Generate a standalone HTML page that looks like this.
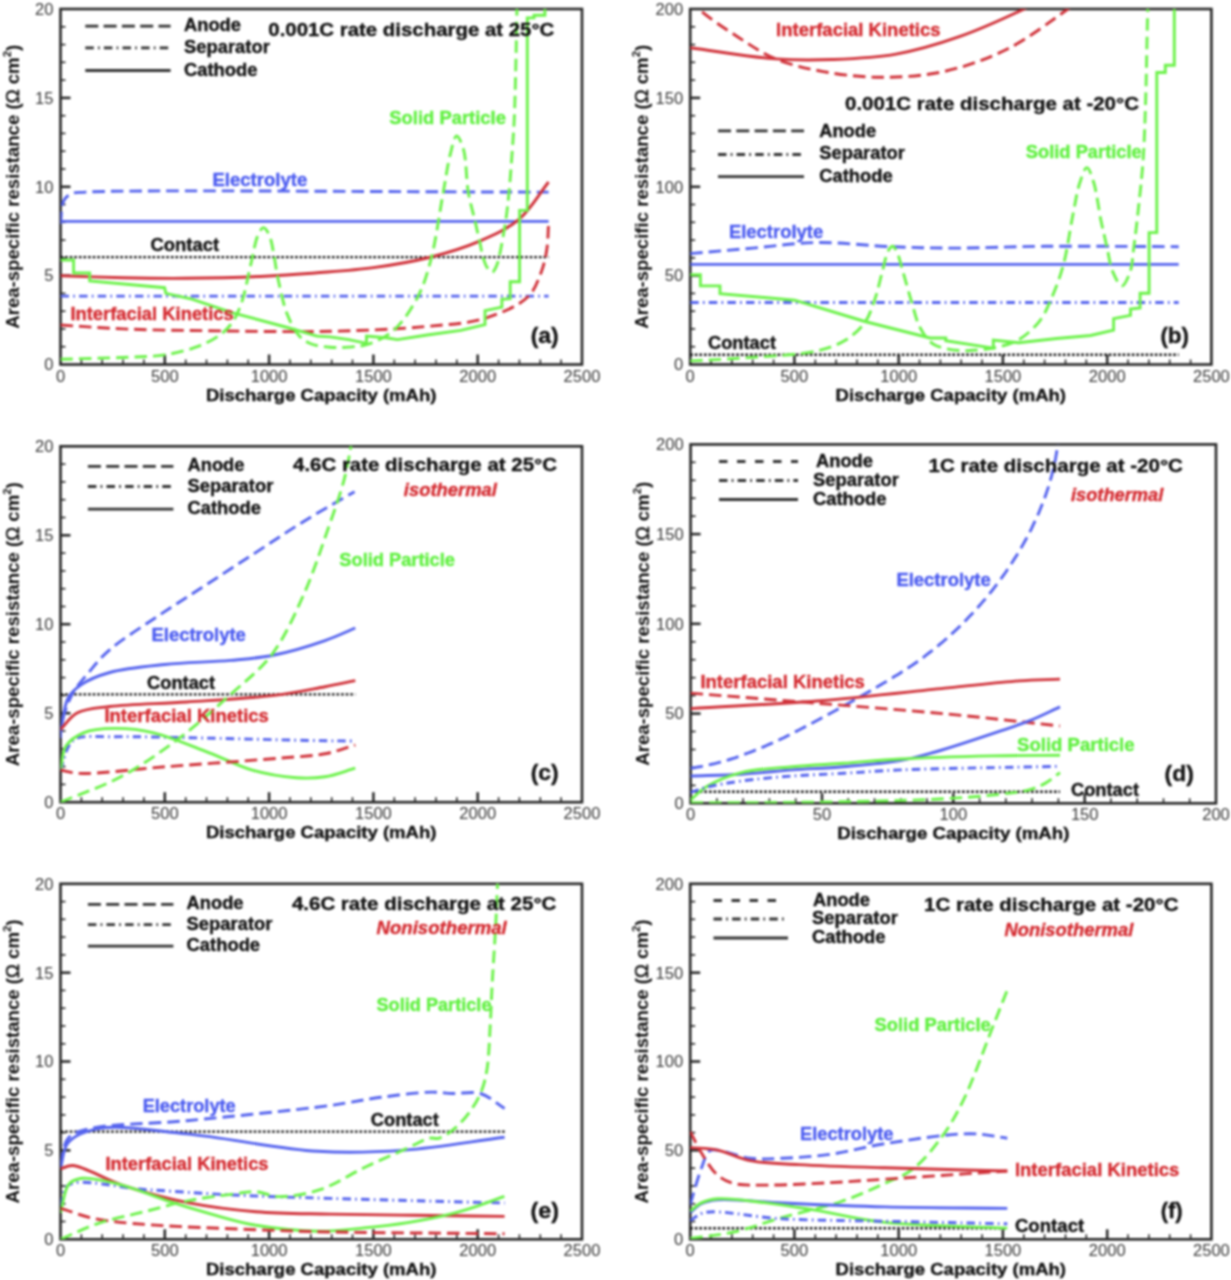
<!DOCTYPE html><html><head><meta charset="utf-8"><style>html,body{margin:0;padding:0;background:#fff;overflow:hidden}svg{display:block;filter:blur(1px)}</style></head><body><svg width="1231" height="1280" viewBox="0 0 1231 1280" font-family='"Liberation Sans", sans-serif'><defs><clipPath id="clipa"><rect x="60.5" y="9" width="521.5" height="355.5"/></clipPath><clipPath id="clipb"><rect x="690.2" y="9" width="521.2" height="355.5"/></clipPath><clipPath id="clipc"><rect x="60.5" y="446.3" width="521.5" height="355.9"/></clipPath><clipPath id="clipd"><rect x="690.6" y="444.4" width="525.4" height="358.9"/></clipPath><clipPath id="clipe"><rect x="60.5" y="883.8" width="521.5" height="355.5"/></clipPath><clipPath id="clipf"><rect x="690.2" y="883.8" width="521.2" height="355.5"/></clipPath></defs><rect width="1231" height="1280" fill="#fff"/><line x1="81.4" y1="364.5" x2="81.4" y2="359.5" stroke="#262626" stroke-width="1.6"/>
<line x1="102.2" y1="364.5" x2="102.2" y2="359.5" stroke="#262626" stroke-width="1.6"/>
<line x1="123.1" y1="364.5" x2="123.1" y2="359.5" stroke="#262626" stroke-width="1.6"/>
<line x1="143.9" y1="364.5" x2="143.9" y2="359.5" stroke="#262626" stroke-width="1.6"/>
<line x1="164.8" y1="364.5" x2="164.8" y2="354.5" stroke="#262626" stroke-width="2.5"/>
<line x1="185.7" y1="364.5" x2="185.7" y2="359.5" stroke="#262626" stroke-width="1.6"/>
<line x1="206.5" y1="364.5" x2="206.5" y2="359.5" stroke="#262626" stroke-width="1.6"/>
<line x1="227.4" y1="364.5" x2="227.4" y2="359.5" stroke="#262626" stroke-width="1.6"/>
<line x1="248.2" y1="364.5" x2="248.2" y2="359.5" stroke="#262626" stroke-width="1.6"/>
<line x1="269.1" y1="364.5" x2="269.1" y2="354.5" stroke="#262626" stroke-width="2.5"/>
<line x1="290" y1="364.5" x2="290" y2="359.5" stroke="#262626" stroke-width="1.6"/>
<line x1="310.8" y1="364.5" x2="310.8" y2="359.5" stroke="#262626" stroke-width="1.6"/>
<line x1="331.7" y1="364.5" x2="331.7" y2="359.5" stroke="#262626" stroke-width="1.6"/>
<line x1="352.5" y1="364.5" x2="352.5" y2="359.5" stroke="#262626" stroke-width="1.6"/>
<line x1="373.4" y1="364.5" x2="373.4" y2="354.5" stroke="#262626" stroke-width="2.5"/>
<line x1="394.3" y1="364.5" x2="394.3" y2="359.5" stroke="#262626" stroke-width="1.6"/>
<line x1="415.1" y1="364.5" x2="415.1" y2="359.5" stroke="#262626" stroke-width="1.6"/>
<line x1="436" y1="364.5" x2="436" y2="359.5" stroke="#262626" stroke-width="1.6"/>
<line x1="456.8" y1="364.5" x2="456.8" y2="359.5" stroke="#262626" stroke-width="1.6"/>
<line x1="477.7" y1="364.5" x2="477.7" y2="354.5" stroke="#262626" stroke-width="2.5"/>
<line x1="498.6" y1="364.5" x2="498.6" y2="359.5" stroke="#262626" stroke-width="1.6"/>
<line x1="519.4" y1="364.5" x2="519.4" y2="359.5" stroke="#262626" stroke-width="1.6"/>
<line x1="540.3" y1="364.5" x2="540.3" y2="359.5" stroke="#262626" stroke-width="1.6"/>
<line x1="561.1" y1="364.5" x2="561.1" y2="359.5" stroke="#262626" stroke-width="1.6"/>
<line x1="60.5" y1="346.7" x2="65.5" y2="346.7" stroke="#262626" stroke-width="1.6"/>
<line x1="60.5" y1="328.9" x2="65.5" y2="328.9" stroke="#262626" stroke-width="1.6"/>
<line x1="60.5" y1="311.2" x2="65.5" y2="311.2" stroke="#262626" stroke-width="1.6"/>
<line x1="60.5" y1="293.4" x2="65.5" y2="293.4" stroke="#262626" stroke-width="1.6"/>
<line x1="60.5" y1="275.6" x2="70.5" y2="275.6" stroke="#262626" stroke-width="2.5"/>
<line x1="60.5" y1="257.9" x2="65.5" y2="257.9" stroke="#262626" stroke-width="1.6"/>
<line x1="60.5" y1="240.1" x2="65.5" y2="240.1" stroke="#262626" stroke-width="1.6"/>
<line x1="60.5" y1="222.3" x2="65.5" y2="222.3" stroke="#262626" stroke-width="1.6"/>
<line x1="60.5" y1="204.5" x2="65.5" y2="204.5" stroke="#262626" stroke-width="1.6"/>
<line x1="60.5" y1="186.8" x2="70.5" y2="186.8" stroke="#262626" stroke-width="2.5"/>
<line x1="60.5" y1="169" x2="65.5" y2="169" stroke="#262626" stroke-width="1.6"/>
<line x1="60.5" y1="151.2" x2="65.5" y2="151.2" stroke="#262626" stroke-width="1.6"/>
<line x1="60.5" y1="133.4" x2="65.5" y2="133.4" stroke="#262626" stroke-width="1.6"/>
<line x1="60.5" y1="115.7" x2="65.5" y2="115.7" stroke="#262626" stroke-width="1.6"/>
<line x1="60.5" y1="97.9" x2="70.5" y2="97.9" stroke="#262626" stroke-width="2.5"/>
<line x1="60.5" y1="80.1" x2="65.5" y2="80.1" stroke="#262626" stroke-width="1.6"/>
<line x1="60.5" y1="62.3" x2="65.5" y2="62.3" stroke="#262626" stroke-width="1.6"/>
<line x1="60.5" y1="44.6" x2="65.5" y2="44.6" stroke="#262626" stroke-width="1.6"/>
<line x1="60.5" y1="26.8" x2="65.5" y2="26.8" stroke="#262626" stroke-width="1.6"/>
<rect x="60.5" y="9" width="521.5" height="355.5" fill="none" stroke="#262626" stroke-width="2.6"/>
<text x="60.5" y="381.5" font-size="16.5" fill="#383838" font-weight="normal" text-anchor="middle" textLength="9.2" lengthAdjust="spacingAndGlyphs" >0</text>
<text x="164.8" y="381.5" font-size="16.5" fill="#383838" font-weight="normal" text-anchor="middle" textLength="27.6" lengthAdjust="spacingAndGlyphs" >500</text>
<text x="269.1" y="381.5" font-size="16.5" fill="#383838" font-weight="normal" text-anchor="middle" textLength="36.8" lengthAdjust="spacingAndGlyphs" >1000</text>
<text x="373.4" y="381.5" font-size="16.5" fill="#383838" font-weight="normal" text-anchor="middle" textLength="36.8" lengthAdjust="spacingAndGlyphs" >1500</text>
<text x="477.7" y="381.5" font-size="16.5" fill="#383838" font-weight="normal" text-anchor="middle" textLength="36.8" lengthAdjust="spacingAndGlyphs" >2000</text>
<text x="582" y="381.5" font-size="16.5" fill="#383838" font-weight="normal" text-anchor="middle" textLength="36.8" lengthAdjust="spacingAndGlyphs" >2500</text>
<text x="53.5" y="370.3" font-size="16.5" fill="#383838" font-weight="normal" text-anchor="end" textLength="9.2" lengthAdjust="spacingAndGlyphs" >0</text>
<text x="53.5" y="281.4" font-size="16.5" fill="#383838" font-weight="normal" text-anchor="end" textLength="9.2" lengthAdjust="spacingAndGlyphs" >5</text>
<text x="53.5" y="192.6" font-size="16.5" fill="#383838" font-weight="normal" text-anchor="end" textLength="18.4" lengthAdjust="spacingAndGlyphs" >10</text>
<text x="53.5" y="103.7" font-size="16.5" fill="#383838" font-weight="normal" text-anchor="end" textLength="18.4" lengthAdjust="spacingAndGlyphs" >15</text>
<text x="53.5" y="14.8" font-size="16.5" fill="#383838" font-weight="normal" text-anchor="end" textLength="18.4" lengthAdjust="spacingAndGlyphs" >20</text>
<text x="321.2" y="400.5" font-size="16.5" fill="#111" font-weight="bold" text-anchor="middle" textLength="230.5" lengthAdjust="spacingAndGlyphs" stroke="#111" stroke-width="0.35" >Discharge Capacity (mAh)</text>
<g transform="translate(18.5,186.8) rotate(-90)"><text x="0" y="0" font-size="18" font-weight="bold" fill="#111" text-anchor="middle" textLength="284" lengthAdjust="spacingAndGlyphs">Area-specific resistance (<tspan font-weight="normal" stroke-width="0.5" stroke="#111">&#937;</tspan> cm<tspan dy="-8" font-size="11">2</tspan><tspan dy="8">)</tspan></text></g>
<line x1="711" y1="364.5" x2="711" y2="359.5" stroke="#262626" stroke-width="1.6"/>
<line x1="731.9" y1="364.5" x2="731.9" y2="359.5" stroke="#262626" stroke-width="1.6"/>
<line x1="752.7" y1="364.5" x2="752.7" y2="359.5" stroke="#262626" stroke-width="1.6"/>
<line x1="773.6" y1="364.5" x2="773.6" y2="359.5" stroke="#262626" stroke-width="1.6"/>
<line x1="794.4" y1="364.5" x2="794.4" y2="354.5" stroke="#262626" stroke-width="2.5"/>
<line x1="815.3" y1="364.5" x2="815.3" y2="359.5" stroke="#262626" stroke-width="1.6"/>
<line x1="836.1" y1="364.5" x2="836.1" y2="359.5" stroke="#262626" stroke-width="1.6"/>
<line x1="857" y1="364.5" x2="857" y2="359.5" stroke="#262626" stroke-width="1.6"/>
<line x1="877.8" y1="364.5" x2="877.8" y2="359.5" stroke="#262626" stroke-width="1.6"/>
<line x1="898.7" y1="364.5" x2="898.7" y2="354.5" stroke="#262626" stroke-width="2.5"/>
<line x1="919.5" y1="364.5" x2="919.5" y2="359.5" stroke="#262626" stroke-width="1.6"/>
<line x1="940.4" y1="364.5" x2="940.4" y2="359.5" stroke="#262626" stroke-width="1.6"/>
<line x1="961.2" y1="364.5" x2="961.2" y2="359.5" stroke="#262626" stroke-width="1.6"/>
<line x1="982.1" y1="364.5" x2="982.1" y2="359.5" stroke="#262626" stroke-width="1.6"/>
<line x1="1002.9" y1="364.5" x2="1002.9" y2="354.5" stroke="#262626" stroke-width="2.5"/>
<line x1="1023.8" y1="364.5" x2="1023.8" y2="359.5" stroke="#262626" stroke-width="1.6"/>
<line x1="1044.6" y1="364.5" x2="1044.6" y2="359.5" stroke="#262626" stroke-width="1.6"/>
<line x1="1065.5" y1="364.5" x2="1065.5" y2="359.5" stroke="#262626" stroke-width="1.6"/>
<line x1="1086.3" y1="364.5" x2="1086.3" y2="359.5" stroke="#262626" stroke-width="1.6"/>
<line x1="1107.2" y1="364.5" x2="1107.2" y2="354.5" stroke="#262626" stroke-width="2.5"/>
<line x1="1128" y1="364.5" x2="1128" y2="359.5" stroke="#262626" stroke-width="1.6"/>
<line x1="1148.9" y1="364.5" x2="1148.9" y2="359.5" stroke="#262626" stroke-width="1.6"/>
<line x1="1169.7" y1="364.5" x2="1169.7" y2="359.5" stroke="#262626" stroke-width="1.6"/>
<line x1="1190.6" y1="364.5" x2="1190.6" y2="359.5" stroke="#262626" stroke-width="1.6"/>
<line x1="690.2" y1="346.7" x2="695.2" y2="346.7" stroke="#262626" stroke-width="1.6"/>
<line x1="690.2" y1="328.9" x2="695.2" y2="328.9" stroke="#262626" stroke-width="1.6"/>
<line x1="690.2" y1="311.2" x2="695.2" y2="311.2" stroke="#262626" stroke-width="1.6"/>
<line x1="690.2" y1="293.4" x2="695.2" y2="293.4" stroke="#262626" stroke-width="1.6"/>
<line x1="690.2" y1="275.6" x2="700.2" y2="275.6" stroke="#262626" stroke-width="2.5"/>
<line x1="690.2" y1="257.9" x2="695.2" y2="257.9" stroke="#262626" stroke-width="1.6"/>
<line x1="690.2" y1="240.1" x2="695.2" y2="240.1" stroke="#262626" stroke-width="1.6"/>
<line x1="690.2" y1="222.3" x2="695.2" y2="222.3" stroke="#262626" stroke-width="1.6"/>
<line x1="690.2" y1="204.5" x2="695.2" y2="204.5" stroke="#262626" stroke-width="1.6"/>
<line x1="690.2" y1="186.8" x2="700.2" y2="186.8" stroke="#262626" stroke-width="2.5"/>
<line x1="690.2" y1="169" x2="695.2" y2="169" stroke="#262626" stroke-width="1.6"/>
<line x1="690.2" y1="151.2" x2="695.2" y2="151.2" stroke="#262626" stroke-width="1.6"/>
<line x1="690.2" y1="133.4" x2="695.2" y2="133.4" stroke="#262626" stroke-width="1.6"/>
<line x1="690.2" y1="115.7" x2="695.2" y2="115.7" stroke="#262626" stroke-width="1.6"/>
<line x1="690.2" y1="97.9" x2="700.2" y2="97.9" stroke="#262626" stroke-width="2.5"/>
<line x1="690.2" y1="80.1" x2="695.2" y2="80.1" stroke="#262626" stroke-width="1.6"/>
<line x1="690.2" y1="62.3" x2="695.2" y2="62.3" stroke="#262626" stroke-width="1.6"/>
<line x1="690.2" y1="44.6" x2="695.2" y2="44.6" stroke="#262626" stroke-width="1.6"/>
<line x1="690.2" y1="26.8" x2="695.2" y2="26.8" stroke="#262626" stroke-width="1.6"/>
<rect x="690.2" y="9" width="521.2" height="355.5" fill="none" stroke="#262626" stroke-width="2.6"/>
<text x="690.2" y="381.5" font-size="16.5" fill="#383838" font-weight="normal" text-anchor="middle" textLength="9.2" lengthAdjust="spacingAndGlyphs" >0</text>
<text x="794.4" y="381.5" font-size="16.5" fill="#383838" font-weight="normal" text-anchor="middle" textLength="27.6" lengthAdjust="spacingAndGlyphs" >500</text>
<text x="898.7" y="381.5" font-size="16.5" fill="#383838" font-weight="normal" text-anchor="middle" textLength="36.8" lengthAdjust="spacingAndGlyphs" >1000</text>
<text x="1002.9" y="381.5" font-size="16.5" fill="#383838" font-weight="normal" text-anchor="middle" textLength="36.8" lengthAdjust="spacingAndGlyphs" >1500</text>
<text x="1107.2" y="381.5" font-size="16.5" fill="#383838" font-weight="normal" text-anchor="middle" textLength="36.8" lengthAdjust="spacingAndGlyphs" >2000</text>
<text x="1211.4" y="381.5" font-size="16.5" fill="#383838" font-weight="normal" text-anchor="middle" textLength="36.8" lengthAdjust="spacingAndGlyphs" >2500</text>
<text x="683.2" y="370.3" font-size="16.5" fill="#383838" font-weight="normal" text-anchor="end" textLength="9.2" lengthAdjust="spacingAndGlyphs" >0</text>
<text x="683.2" y="281.4" font-size="16.5" fill="#383838" font-weight="normal" text-anchor="end" textLength="18.4" lengthAdjust="spacingAndGlyphs" >50</text>
<text x="683.2" y="192.6" font-size="16.5" fill="#383838" font-weight="normal" text-anchor="end" textLength="27.6" lengthAdjust="spacingAndGlyphs" >100</text>
<text x="683.2" y="103.7" font-size="16.5" fill="#383838" font-weight="normal" text-anchor="end" textLength="27.6" lengthAdjust="spacingAndGlyphs" >150</text>
<text x="683.2" y="14.8" font-size="16.5" fill="#383838" font-weight="normal" text-anchor="end" textLength="27.6" lengthAdjust="spacingAndGlyphs" >200</text>
<text x="950.8" y="400.5" font-size="16.5" fill="#111" font-weight="bold" text-anchor="middle" textLength="230.4" lengthAdjust="spacingAndGlyphs" stroke="#111" stroke-width="0.35" >Discharge Capacity (mAh)</text>
<g transform="translate(648.2,186.8) rotate(-90)"><text x="0" y="0" font-size="18" font-weight="bold" fill="#111" text-anchor="middle" textLength="284" lengthAdjust="spacingAndGlyphs">Area-specific resistance (<tspan font-weight="normal" stroke-width="0.5" stroke="#111">&#937;</tspan> cm<tspan dy="-8" font-size="11">2</tspan><tspan dy="8">)</tspan></text></g>
<line x1="81.4" y1="802.2" x2="81.4" y2="797.2" stroke="#262626" stroke-width="1.6"/>
<line x1="102.2" y1="802.2" x2="102.2" y2="797.2" stroke="#262626" stroke-width="1.6"/>
<line x1="123.1" y1="802.2" x2="123.1" y2="797.2" stroke="#262626" stroke-width="1.6"/>
<line x1="143.9" y1="802.2" x2="143.9" y2="797.2" stroke="#262626" stroke-width="1.6"/>
<line x1="164.8" y1="802.2" x2="164.8" y2="792.2" stroke="#262626" stroke-width="2.5"/>
<line x1="185.7" y1="802.2" x2="185.7" y2="797.2" stroke="#262626" stroke-width="1.6"/>
<line x1="206.5" y1="802.2" x2="206.5" y2="797.2" stroke="#262626" stroke-width="1.6"/>
<line x1="227.4" y1="802.2" x2="227.4" y2="797.2" stroke="#262626" stroke-width="1.6"/>
<line x1="248.2" y1="802.2" x2="248.2" y2="797.2" stroke="#262626" stroke-width="1.6"/>
<line x1="269.1" y1="802.2" x2="269.1" y2="792.2" stroke="#262626" stroke-width="2.5"/>
<line x1="290" y1="802.2" x2="290" y2="797.2" stroke="#262626" stroke-width="1.6"/>
<line x1="310.8" y1="802.2" x2="310.8" y2="797.2" stroke="#262626" stroke-width="1.6"/>
<line x1="331.7" y1="802.2" x2="331.7" y2="797.2" stroke="#262626" stroke-width="1.6"/>
<line x1="352.5" y1="802.2" x2="352.5" y2="797.2" stroke="#262626" stroke-width="1.6"/>
<line x1="373.4" y1="802.2" x2="373.4" y2="792.2" stroke="#262626" stroke-width="2.5"/>
<line x1="394.3" y1="802.2" x2="394.3" y2="797.2" stroke="#262626" stroke-width="1.6"/>
<line x1="415.1" y1="802.2" x2="415.1" y2="797.2" stroke="#262626" stroke-width="1.6"/>
<line x1="436" y1="802.2" x2="436" y2="797.2" stroke="#262626" stroke-width="1.6"/>
<line x1="456.8" y1="802.2" x2="456.8" y2="797.2" stroke="#262626" stroke-width="1.6"/>
<line x1="477.7" y1="802.2" x2="477.7" y2="792.2" stroke="#262626" stroke-width="2.5"/>
<line x1="498.6" y1="802.2" x2="498.6" y2="797.2" stroke="#262626" stroke-width="1.6"/>
<line x1="519.4" y1="802.2" x2="519.4" y2="797.2" stroke="#262626" stroke-width="1.6"/>
<line x1="540.3" y1="802.2" x2="540.3" y2="797.2" stroke="#262626" stroke-width="1.6"/>
<line x1="561.1" y1="802.2" x2="561.1" y2="797.2" stroke="#262626" stroke-width="1.6"/>
<line x1="60.5" y1="784.4" x2="65.5" y2="784.4" stroke="#262626" stroke-width="1.6"/>
<line x1="60.5" y1="766.6" x2="65.5" y2="766.6" stroke="#262626" stroke-width="1.6"/>
<line x1="60.5" y1="748.8" x2="65.5" y2="748.8" stroke="#262626" stroke-width="1.6"/>
<line x1="60.5" y1="731" x2="65.5" y2="731" stroke="#262626" stroke-width="1.6"/>
<line x1="60.5" y1="713.2" x2="70.5" y2="713.2" stroke="#262626" stroke-width="2.5"/>
<line x1="60.5" y1="695.4" x2="65.5" y2="695.4" stroke="#262626" stroke-width="1.6"/>
<line x1="60.5" y1="677.6" x2="65.5" y2="677.6" stroke="#262626" stroke-width="1.6"/>
<line x1="60.5" y1="659.8" x2="65.5" y2="659.8" stroke="#262626" stroke-width="1.6"/>
<line x1="60.5" y1="642" x2="65.5" y2="642" stroke="#262626" stroke-width="1.6"/>
<line x1="60.5" y1="624.2" x2="70.5" y2="624.2" stroke="#262626" stroke-width="2.5"/>
<line x1="60.5" y1="606.5" x2="65.5" y2="606.5" stroke="#262626" stroke-width="1.6"/>
<line x1="60.5" y1="588.7" x2="65.5" y2="588.7" stroke="#262626" stroke-width="1.6"/>
<line x1="60.5" y1="570.9" x2="65.5" y2="570.9" stroke="#262626" stroke-width="1.6"/>
<line x1="60.5" y1="553.1" x2="65.5" y2="553.1" stroke="#262626" stroke-width="1.6"/>
<line x1="60.5" y1="535.3" x2="70.5" y2="535.3" stroke="#262626" stroke-width="2.5"/>
<line x1="60.5" y1="517.5" x2="65.5" y2="517.5" stroke="#262626" stroke-width="1.6"/>
<line x1="60.5" y1="499.7" x2="65.5" y2="499.7" stroke="#262626" stroke-width="1.6"/>
<line x1="60.5" y1="481.9" x2="65.5" y2="481.9" stroke="#262626" stroke-width="1.6"/>
<line x1="60.5" y1="464.1" x2="65.5" y2="464.1" stroke="#262626" stroke-width="1.6"/>
<rect x="60.5" y="446.3" width="521.5" height="355.9" fill="none" stroke="#262626" stroke-width="2.6"/>
<text x="60.5" y="819.2" font-size="16.5" fill="#383838" font-weight="normal" text-anchor="middle" textLength="9.2" lengthAdjust="spacingAndGlyphs" >0</text>
<text x="164.8" y="819.2" font-size="16.5" fill="#383838" font-weight="normal" text-anchor="middle" textLength="27.6" lengthAdjust="spacingAndGlyphs" >500</text>
<text x="269.1" y="819.2" font-size="16.5" fill="#383838" font-weight="normal" text-anchor="middle" textLength="36.8" lengthAdjust="spacingAndGlyphs" >1000</text>
<text x="373.4" y="819.2" font-size="16.5" fill="#383838" font-weight="normal" text-anchor="middle" textLength="36.8" lengthAdjust="spacingAndGlyphs" >1500</text>
<text x="477.7" y="819.2" font-size="16.5" fill="#383838" font-weight="normal" text-anchor="middle" textLength="36.8" lengthAdjust="spacingAndGlyphs" >2000</text>
<text x="582" y="819.2" font-size="16.5" fill="#383838" font-weight="normal" text-anchor="middle" textLength="36.8" lengthAdjust="spacingAndGlyphs" >2500</text>
<text x="53.5" y="808" font-size="16.5" fill="#383838" font-weight="normal" text-anchor="end" textLength="9.2" lengthAdjust="spacingAndGlyphs" >0</text>
<text x="53.5" y="719" font-size="16.5" fill="#383838" font-weight="normal" text-anchor="end" textLength="9.2" lengthAdjust="spacingAndGlyphs" >5</text>
<text x="53.5" y="630" font-size="16.5" fill="#383838" font-weight="normal" text-anchor="end" textLength="18.4" lengthAdjust="spacingAndGlyphs" >10</text>
<text x="53.5" y="541.1" font-size="16.5" fill="#383838" font-weight="normal" text-anchor="end" textLength="18.4" lengthAdjust="spacingAndGlyphs" >15</text>
<text x="53.5" y="452.1" font-size="16.5" fill="#383838" font-weight="normal" text-anchor="end" textLength="18.4" lengthAdjust="spacingAndGlyphs" >20</text>
<text x="321.2" y="838.2" font-size="16.5" fill="#111" font-weight="bold" text-anchor="middle" textLength="230.5" lengthAdjust="spacingAndGlyphs" stroke="#111" stroke-width="0.35" >Discharge Capacity (mAh)</text>
<g transform="translate(18.5,624.2) rotate(-90)"><text x="0" y="0" font-size="18" font-weight="bold" fill="#111" text-anchor="middle" textLength="284" lengthAdjust="spacingAndGlyphs">Area-specific resistance (<tspan font-weight="normal" stroke-width="0.5" stroke="#111">&#937;</tspan> cm<tspan dy="-8" font-size="11">2</tspan><tspan dy="8">)</tspan></text></g>
<line x1="716.9" y1="803.3" x2="716.9" y2="798.3" stroke="#262626" stroke-width="1.6"/>
<line x1="743.1" y1="803.3" x2="743.1" y2="798.3" stroke="#262626" stroke-width="1.6"/>
<line x1="769.4" y1="803.3" x2="769.4" y2="798.3" stroke="#262626" stroke-width="1.6"/>
<line x1="795.7" y1="803.3" x2="795.7" y2="798.3" stroke="#262626" stroke-width="1.6"/>
<line x1="822" y1="803.3" x2="822" y2="793.3" stroke="#262626" stroke-width="2.5"/>
<line x1="848.2" y1="803.3" x2="848.2" y2="798.3" stroke="#262626" stroke-width="1.6"/>
<line x1="874.5" y1="803.3" x2="874.5" y2="798.3" stroke="#262626" stroke-width="1.6"/>
<line x1="900.8" y1="803.3" x2="900.8" y2="798.3" stroke="#262626" stroke-width="1.6"/>
<line x1="927" y1="803.3" x2="927" y2="798.3" stroke="#262626" stroke-width="1.6"/>
<line x1="953.3" y1="803.3" x2="953.3" y2="793.3" stroke="#262626" stroke-width="2.5"/>
<line x1="979.6" y1="803.3" x2="979.6" y2="798.3" stroke="#262626" stroke-width="1.6"/>
<line x1="1005.8" y1="803.3" x2="1005.8" y2="798.3" stroke="#262626" stroke-width="1.6"/>
<line x1="1032.1" y1="803.3" x2="1032.1" y2="798.3" stroke="#262626" stroke-width="1.6"/>
<line x1="1058.4" y1="803.3" x2="1058.4" y2="798.3" stroke="#262626" stroke-width="1.6"/>
<line x1="1084.7" y1="803.3" x2="1084.7" y2="793.3" stroke="#262626" stroke-width="2.5"/>
<line x1="1110.9" y1="803.3" x2="1110.9" y2="798.3" stroke="#262626" stroke-width="1.6"/>
<line x1="1137.2" y1="803.3" x2="1137.2" y2="798.3" stroke="#262626" stroke-width="1.6"/>
<line x1="1163.5" y1="803.3" x2="1163.5" y2="798.3" stroke="#262626" stroke-width="1.6"/>
<line x1="1189.7" y1="803.3" x2="1189.7" y2="798.3" stroke="#262626" stroke-width="1.6"/>
<line x1="690.6" y1="785.4" x2="695.6" y2="785.4" stroke="#262626" stroke-width="1.6"/>
<line x1="690.6" y1="767.4" x2="695.6" y2="767.4" stroke="#262626" stroke-width="1.6"/>
<line x1="690.6" y1="749.5" x2="695.6" y2="749.5" stroke="#262626" stroke-width="1.6"/>
<line x1="690.6" y1="731.5" x2="695.6" y2="731.5" stroke="#262626" stroke-width="1.6"/>
<line x1="690.6" y1="713.6" x2="700.6" y2="713.6" stroke="#262626" stroke-width="2.5"/>
<line x1="690.6" y1="695.6" x2="695.6" y2="695.6" stroke="#262626" stroke-width="1.6"/>
<line x1="690.6" y1="677.7" x2="695.6" y2="677.7" stroke="#262626" stroke-width="1.6"/>
<line x1="690.6" y1="659.7" x2="695.6" y2="659.7" stroke="#262626" stroke-width="1.6"/>
<line x1="690.6" y1="641.8" x2="695.6" y2="641.8" stroke="#262626" stroke-width="1.6"/>
<line x1="690.6" y1="623.8" x2="700.6" y2="623.8" stroke="#262626" stroke-width="2.5"/>
<line x1="690.6" y1="605.9" x2="695.6" y2="605.9" stroke="#262626" stroke-width="1.6"/>
<line x1="690.6" y1="588" x2="695.6" y2="588" stroke="#262626" stroke-width="1.6"/>
<line x1="690.6" y1="570" x2="695.6" y2="570" stroke="#262626" stroke-width="1.6"/>
<line x1="690.6" y1="552.1" x2="695.6" y2="552.1" stroke="#262626" stroke-width="1.6"/>
<line x1="690.6" y1="534.1" x2="700.6" y2="534.1" stroke="#262626" stroke-width="2.5"/>
<line x1="690.6" y1="516.2" x2="695.6" y2="516.2" stroke="#262626" stroke-width="1.6"/>
<line x1="690.6" y1="498.2" x2="695.6" y2="498.2" stroke="#262626" stroke-width="1.6"/>
<line x1="690.6" y1="480.3" x2="695.6" y2="480.3" stroke="#262626" stroke-width="1.6"/>
<line x1="690.6" y1="462.3" x2="695.6" y2="462.3" stroke="#262626" stroke-width="1.6"/>
<rect x="690.6" y="444.4" width="525.4" height="358.9" fill="none" stroke="#262626" stroke-width="2.6"/>
<text x="690.6" y="820.3" font-size="16.5" fill="#383838" font-weight="normal" text-anchor="middle" textLength="9.2" lengthAdjust="spacingAndGlyphs" >0</text>
<text x="822" y="820.3" font-size="16.5" fill="#383838" font-weight="normal" text-anchor="middle" textLength="18.4" lengthAdjust="spacingAndGlyphs" >50</text>
<text x="953.3" y="820.3" font-size="16.5" fill="#383838" font-weight="normal" text-anchor="middle" textLength="27.6" lengthAdjust="spacingAndGlyphs" >100</text>
<text x="1084.7" y="820.3" font-size="16.5" fill="#383838" font-weight="normal" text-anchor="middle" textLength="27.6" lengthAdjust="spacingAndGlyphs" >150</text>
<text x="1216" y="820.3" font-size="16.5" fill="#383838" font-weight="normal" text-anchor="middle" textLength="27.6" lengthAdjust="spacingAndGlyphs" >200</text>
<text x="683.6" y="809.1" font-size="16.5" fill="#383838" font-weight="normal" text-anchor="end" textLength="9.2" lengthAdjust="spacingAndGlyphs" >0</text>
<text x="683.6" y="719.4" font-size="16.5" fill="#383838" font-weight="normal" text-anchor="end" textLength="18.4" lengthAdjust="spacingAndGlyphs" >50</text>
<text x="683.6" y="629.6" font-size="16.5" fill="#383838" font-weight="normal" text-anchor="end" textLength="27.6" lengthAdjust="spacingAndGlyphs" >100</text>
<text x="683.6" y="539.9" font-size="16.5" fill="#383838" font-weight="normal" text-anchor="end" textLength="27.6" lengthAdjust="spacingAndGlyphs" >150</text>
<text x="683.6" y="450.2" font-size="16.5" fill="#383838" font-weight="normal" text-anchor="end" textLength="27.6" lengthAdjust="spacingAndGlyphs" >200</text>
<text x="953.3" y="839.3" font-size="16.5" fill="#111" font-weight="bold" text-anchor="middle" textLength="232.2" lengthAdjust="spacingAndGlyphs" stroke="#111" stroke-width="0.35" >Discharge Capacity (mAh)</text>
<g transform="translate(648.6,623.8) rotate(-90)"><text x="0" y="0" font-size="18" font-weight="bold" fill="#111" text-anchor="middle" textLength="284" lengthAdjust="spacingAndGlyphs">Area-specific resistance (<tspan font-weight="normal" stroke-width="0.5" stroke="#111">&#937;</tspan> cm<tspan dy="-8" font-size="11">2</tspan><tspan dy="8">)</tspan></text></g>
<line x1="81.4" y1="1239.3" x2="81.4" y2="1234.3" stroke="#262626" stroke-width="1.6"/>
<line x1="102.2" y1="1239.3" x2="102.2" y2="1234.3" stroke="#262626" stroke-width="1.6"/>
<line x1="123.1" y1="1239.3" x2="123.1" y2="1234.3" stroke="#262626" stroke-width="1.6"/>
<line x1="143.9" y1="1239.3" x2="143.9" y2="1234.3" stroke="#262626" stroke-width="1.6"/>
<line x1="164.8" y1="1239.3" x2="164.8" y2="1229.3" stroke="#262626" stroke-width="2.5"/>
<line x1="185.7" y1="1239.3" x2="185.7" y2="1234.3" stroke="#262626" stroke-width="1.6"/>
<line x1="206.5" y1="1239.3" x2="206.5" y2="1234.3" stroke="#262626" stroke-width="1.6"/>
<line x1="227.4" y1="1239.3" x2="227.4" y2="1234.3" stroke="#262626" stroke-width="1.6"/>
<line x1="248.2" y1="1239.3" x2="248.2" y2="1234.3" stroke="#262626" stroke-width="1.6"/>
<line x1="269.1" y1="1239.3" x2="269.1" y2="1229.3" stroke="#262626" stroke-width="2.5"/>
<line x1="290" y1="1239.3" x2="290" y2="1234.3" stroke="#262626" stroke-width="1.6"/>
<line x1="310.8" y1="1239.3" x2="310.8" y2="1234.3" stroke="#262626" stroke-width="1.6"/>
<line x1="331.7" y1="1239.3" x2="331.7" y2="1234.3" stroke="#262626" stroke-width="1.6"/>
<line x1="352.5" y1="1239.3" x2="352.5" y2="1234.3" stroke="#262626" stroke-width="1.6"/>
<line x1="373.4" y1="1239.3" x2="373.4" y2="1229.3" stroke="#262626" stroke-width="2.5"/>
<line x1="394.3" y1="1239.3" x2="394.3" y2="1234.3" stroke="#262626" stroke-width="1.6"/>
<line x1="415.1" y1="1239.3" x2="415.1" y2="1234.3" stroke="#262626" stroke-width="1.6"/>
<line x1="436" y1="1239.3" x2="436" y2="1234.3" stroke="#262626" stroke-width="1.6"/>
<line x1="456.8" y1="1239.3" x2="456.8" y2="1234.3" stroke="#262626" stroke-width="1.6"/>
<line x1="477.7" y1="1239.3" x2="477.7" y2="1229.3" stroke="#262626" stroke-width="2.5"/>
<line x1="498.6" y1="1239.3" x2="498.6" y2="1234.3" stroke="#262626" stroke-width="1.6"/>
<line x1="519.4" y1="1239.3" x2="519.4" y2="1234.3" stroke="#262626" stroke-width="1.6"/>
<line x1="540.3" y1="1239.3" x2="540.3" y2="1234.3" stroke="#262626" stroke-width="1.6"/>
<line x1="561.1" y1="1239.3" x2="561.1" y2="1234.3" stroke="#262626" stroke-width="1.6"/>
<line x1="60.5" y1="1221.5" x2="65.5" y2="1221.5" stroke="#262626" stroke-width="1.6"/>
<line x1="60.5" y1="1203.8" x2="65.5" y2="1203.8" stroke="#262626" stroke-width="1.6"/>
<line x1="60.5" y1="1186" x2="65.5" y2="1186" stroke="#262626" stroke-width="1.6"/>
<line x1="60.5" y1="1168.2" x2="65.5" y2="1168.2" stroke="#262626" stroke-width="1.6"/>
<line x1="60.5" y1="1150.4" x2="70.5" y2="1150.4" stroke="#262626" stroke-width="2.5"/>
<line x1="60.5" y1="1132.6" x2="65.5" y2="1132.6" stroke="#262626" stroke-width="1.6"/>
<line x1="60.5" y1="1114.9" x2="65.5" y2="1114.9" stroke="#262626" stroke-width="1.6"/>
<line x1="60.5" y1="1097.1" x2="65.5" y2="1097.1" stroke="#262626" stroke-width="1.6"/>
<line x1="60.5" y1="1079.3" x2="65.5" y2="1079.3" stroke="#262626" stroke-width="1.6"/>
<line x1="60.5" y1="1061.5" x2="70.5" y2="1061.5" stroke="#262626" stroke-width="2.5"/>
<line x1="60.5" y1="1043.8" x2="65.5" y2="1043.8" stroke="#262626" stroke-width="1.6"/>
<line x1="60.5" y1="1026" x2="65.5" y2="1026" stroke="#262626" stroke-width="1.6"/>
<line x1="60.5" y1="1008.2" x2="65.5" y2="1008.2" stroke="#262626" stroke-width="1.6"/>
<line x1="60.5" y1="990.4" x2="65.5" y2="990.4" stroke="#262626" stroke-width="1.6"/>
<line x1="60.5" y1="972.7" x2="70.5" y2="972.7" stroke="#262626" stroke-width="2.5"/>
<line x1="60.5" y1="954.9" x2="65.5" y2="954.9" stroke="#262626" stroke-width="1.6"/>
<line x1="60.5" y1="937.1" x2="65.5" y2="937.1" stroke="#262626" stroke-width="1.6"/>
<line x1="60.5" y1="919.3" x2="65.5" y2="919.3" stroke="#262626" stroke-width="1.6"/>
<line x1="60.5" y1="901.6" x2="65.5" y2="901.6" stroke="#262626" stroke-width="1.6"/>
<rect x="60.5" y="883.8" width="521.5" height="355.5" fill="none" stroke="#262626" stroke-width="2.6"/>
<text x="60.5" y="1256.3" font-size="16.5" fill="#383838" font-weight="normal" text-anchor="middle" textLength="9.2" lengthAdjust="spacingAndGlyphs" >0</text>
<text x="164.8" y="1256.3" font-size="16.5" fill="#383838" font-weight="normal" text-anchor="middle" textLength="27.6" lengthAdjust="spacingAndGlyphs" >500</text>
<text x="269.1" y="1256.3" font-size="16.5" fill="#383838" font-weight="normal" text-anchor="middle" textLength="36.8" lengthAdjust="spacingAndGlyphs" >1000</text>
<text x="373.4" y="1256.3" font-size="16.5" fill="#383838" font-weight="normal" text-anchor="middle" textLength="36.8" lengthAdjust="spacingAndGlyphs" >1500</text>
<text x="477.7" y="1256.3" font-size="16.5" fill="#383838" font-weight="normal" text-anchor="middle" textLength="36.8" lengthAdjust="spacingAndGlyphs" >2000</text>
<text x="582" y="1256.3" font-size="16.5" fill="#383838" font-weight="normal" text-anchor="middle" textLength="36.8" lengthAdjust="spacingAndGlyphs" >2500</text>
<text x="53.5" y="1245.1" font-size="16.5" fill="#383838" font-weight="normal" text-anchor="end" textLength="9.2" lengthAdjust="spacingAndGlyphs" >0</text>
<text x="53.5" y="1156.2" font-size="16.5" fill="#383838" font-weight="normal" text-anchor="end" textLength="9.2" lengthAdjust="spacingAndGlyphs" >5</text>
<text x="53.5" y="1067.3" font-size="16.5" fill="#383838" font-weight="normal" text-anchor="end" textLength="18.4" lengthAdjust="spacingAndGlyphs" >10</text>
<text x="53.5" y="978.5" font-size="16.5" fill="#383838" font-weight="normal" text-anchor="end" textLength="18.4" lengthAdjust="spacingAndGlyphs" >15</text>
<text x="53.5" y="889.6" font-size="16.5" fill="#383838" font-weight="normal" text-anchor="end" textLength="18.4" lengthAdjust="spacingAndGlyphs" >20</text>
<text x="321.2" y="1275.3" font-size="16.5" fill="#111" font-weight="bold" text-anchor="middle" textLength="230.5" lengthAdjust="spacingAndGlyphs" stroke="#111" stroke-width="0.35" >Discharge Capacity (mAh)</text>
<g transform="translate(18.5,1061.5) rotate(-90)"><text x="0" y="0" font-size="18" font-weight="bold" fill="#111" text-anchor="middle" textLength="284" lengthAdjust="spacingAndGlyphs">Area-specific resistance (<tspan font-weight="normal" stroke-width="0.5" stroke="#111">&#937;</tspan> cm<tspan dy="-8" font-size="11">2</tspan><tspan dy="8">)</tspan></text></g>
<line x1="711" y1="1239.3" x2="711" y2="1234.3" stroke="#262626" stroke-width="1.6"/>
<line x1="731.9" y1="1239.3" x2="731.9" y2="1234.3" stroke="#262626" stroke-width="1.6"/>
<line x1="752.7" y1="1239.3" x2="752.7" y2="1234.3" stroke="#262626" stroke-width="1.6"/>
<line x1="773.6" y1="1239.3" x2="773.6" y2="1234.3" stroke="#262626" stroke-width="1.6"/>
<line x1="794.4" y1="1239.3" x2="794.4" y2="1229.3" stroke="#262626" stroke-width="2.5"/>
<line x1="815.3" y1="1239.3" x2="815.3" y2="1234.3" stroke="#262626" stroke-width="1.6"/>
<line x1="836.1" y1="1239.3" x2="836.1" y2="1234.3" stroke="#262626" stroke-width="1.6"/>
<line x1="857" y1="1239.3" x2="857" y2="1234.3" stroke="#262626" stroke-width="1.6"/>
<line x1="877.8" y1="1239.3" x2="877.8" y2="1234.3" stroke="#262626" stroke-width="1.6"/>
<line x1="898.7" y1="1239.3" x2="898.7" y2="1229.3" stroke="#262626" stroke-width="2.5"/>
<line x1="919.5" y1="1239.3" x2="919.5" y2="1234.3" stroke="#262626" stroke-width="1.6"/>
<line x1="940.4" y1="1239.3" x2="940.4" y2="1234.3" stroke="#262626" stroke-width="1.6"/>
<line x1="961.2" y1="1239.3" x2="961.2" y2="1234.3" stroke="#262626" stroke-width="1.6"/>
<line x1="982.1" y1="1239.3" x2="982.1" y2="1234.3" stroke="#262626" stroke-width="1.6"/>
<line x1="1002.9" y1="1239.3" x2="1002.9" y2="1229.3" stroke="#262626" stroke-width="2.5"/>
<line x1="1023.8" y1="1239.3" x2="1023.8" y2="1234.3" stroke="#262626" stroke-width="1.6"/>
<line x1="1044.6" y1="1239.3" x2="1044.6" y2="1234.3" stroke="#262626" stroke-width="1.6"/>
<line x1="1065.5" y1="1239.3" x2="1065.5" y2="1234.3" stroke="#262626" stroke-width="1.6"/>
<line x1="1086.3" y1="1239.3" x2="1086.3" y2="1234.3" stroke="#262626" stroke-width="1.6"/>
<line x1="1107.2" y1="1239.3" x2="1107.2" y2="1229.3" stroke="#262626" stroke-width="2.5"/>
<line x1="1128" y1="1239.3" x2="1128" y2="1234.3" stroke="#262626" stroke-width="1.6"/>
<line x1="1148.9" y1="1239.3" x2="1148.9" y2="1234.3" stroke="#262626" stroke-width="1.6"/>
<line x1="1169.7" y1="1239.3" x2="1169.7" y2="1234.3" stroke="#262626" stroke-width="1.6"/>
<line x1="1190.6" y1="1239.3" x2="1190.6" y2="1234.3" stroke="#262626" stroke-width="1.6"/>
<line x1="690.2" y1="1221.5" x2="695.2" y2="1221.5" stroke="#262626" stroke-width="1.6"/>
<line x1="690.2" y1="1203.8" x2="695.2" y2="1203.8" stroke="#262626" stroke-width="1.6"/>
<line x1="690.2" y1="1186" x2="695.2" y2="1186" stroke="#262626" stroke-width="1.6"/>
<line x1="690.2" y1="1168.2" x2="695.2" y2="1168.2" stroke="#262626" stroke-width="1.6"/>
<line x1="690.2" y1="1150.4" x2="700.2" y2="1150.4" stroke="#262626" stroke-width="2.5"/>
<line x1="690.2" y1="1132.6" x2="695.2" y2="1132.6" stroke="#262626" stroke-width="1.6"/>
<line x1="690.2" y1="1114.9" x2="695.2" y2="1114.9" stroke="#262626" stroke-width="1.6"/>
<line x1="690.2" y1="1097.1" x2="695.2" y2="1097.1" stroke="#262626" stroke-width="1.6"/>
<line x1="690.2" y1="1079.3" x2="695.2" y2="1079.3" stroke="#262626" stroke-width="1.6"/>
<line x1="690.2" y1="1061.5" x2="700.2" y2="1061.5" stroke="#262626" stroke-width="2.5"/>
<line x1="690.2" y1="1043.8" x2="695.2" y2="1043.8" stroke="#262626" stroke-width="1.6"/>
<line x1="690.2" y1="1026" x2="695.2" y2="1026" stroke="#262626" stroke-width="1.6"/>
<line x1="690.2" y1="1008.2" x2="695.2" y2="1008.2" stroke="#262626" stroke-width="1.6"/>
<line x1="690.2" y1="990.4" x2="695.2" y2="990.4" stroke="#262626" stroke-width="1.6"/>
<line x1="690.2" y1="972.7" x2="700.2" y2="972.7" stroke="#262626" stroke-width="2.5"/>
<line x1="690.2" y1="954.9" x2="695.2" y2="954.9" stroke="#262626" stroke-width="1.6"/>
<line x1="690.2" y1="937.1" x2="695.2" y2="937.1" stroke="#262626" stroke-width="1.6"/>
<line x1="690.2" y1="919.3" x2="695.2" y2="919.3" stroke="#262626" stroke-width="1.6"/>
<line x1="690.2" y1="901.6" x2="695.2" y2="901.6" stroke="#262626" stroke-width="1.6"/>
<rect x="690.2" y="883.8" width="521.2" height="355.5" fill="none" stroke="#262626" stroke-width="2.6"/>
<text x="690.2" y="1256.3" font-size="16.5" fill="#383838" font-weight="normal" text-anchor="middle" textLength="9.2" lengthAdjust="spacingAndGlyphs" >0</text>
<text x="794.4" y="1256.3" font-size="16.5" fill="#383838" font-weight="normal" text-anchor="middle" textLength="27.6" lengthAdjust="spacingAndGlyphs" >500</text>
<text x="898.7" y="1256.3" font-size="16.5" fill="#383838" font-weight="normal" text-anchor="middle" textLength="36.8" lengthAdjust="spacingAndGlyphs" >1000</text>
<text x="1002.9" y="1256.3" font-size="16.5" fill="#383838" font-weight="normal" text-anchor="middle" textLength="36.8" lengthAdjust="spacingAndGlyphs" >1500</text>
<text x="1107.2" y="1256.3" font-size="16.5" fill="#383838" font-weight="normal" text-anchor="middle" textLength="36.8" lengthAdjust="spacingAndGlyphs" >2000</text>
<text x="1211.4" y="1256.3" font-size="16.5" fill="#383838" font-weight="normal" text-anchor="middle" textLength="36.8" lengthAdjust="spacingAndGlyphs" >2500</text>
<text x="683.2" y="1245.1" font-size="16.5" fill="#383838" font-weight="normal" text-anchor="end" textLength="9.2" lengthAdjust="spacingAndGlyphs" >0</text>
<text x="683.2" y="1156.2" font-size="16.5" fill="#383838" font-weight="normal" text-anchor="end" textLength="18.4" lengthAdjust="spacingAndGlyphs" >50</text>
<text x="683.2" y="1067.3" font-size="16.5" fill="#383838" font-weight="normal" text-anchor="end" textLength="27.6" lengthAdjust="spacingAndGlyphs" >100</text>
<text x="683.2" y="978.5" font-size="16.5" fill="#383838" font-weight="normal" text-anchor="end" textLength="27.6" lengthAdjust="spacingAndGlyphs" >150</text>
<text x="683.2" y="889.6" font-size="16.5" fill="#383838" font-weight="normal" text-anchor="end" textLength="27.6" lengthAdjust="spacingAndGlyphs" >200</text>
<text x="950.8" y="1275.3" font-size="16.5" fill="#111" font-weight="bold" text-anchor="middle" textLength="230.4" lengthAdjust="spacingAndGlyphs" stroke="#111" stroke-width="0.35" >Discharge Capacity (mAh)</text>
<g transform="translate(648.2,1061.5) rotate(-90)"><text x="0" y="0" font-size="18" font-weight="bold" fill="#111" text-anchor="middle" textLength="284" lengthAdjust="spacingAndGlyphs">Area-specific resistance (<tspan font-weight="normal" stroke-width="0.5" stroke="#111">&#937;</tspan> cm<tspan dy="-8" font-size="11">2</tspan><tspan dy="8">)</tspan></text></g>
<g clip-path="url(#clipa)">
<path d="M60.5,257.1 L548.6,257.1" fill="none" stroke="#111" stroke-width="2.4" stroke-dasharray="2.6 2.0"/>
<path d="M60.5,224.1 C61.5,216.4 61,206.2 63.6,201 C65.4,197.5 67.8,195.4 70.9,193.9 C74.7,192 77.2,192.6 85.5,192.1 C132.1,189.3 394.3,192.1 548.6,192.1" fill="none" stroke="#5664ee" stroke-width="2.9" stroke-dasharray="12.5 6"/>
<path d="M60.5,221.4 L548.6,221.4" fill="none" stroke="#5664ee" stroke-width="2.9" />
<path d="M60.5,296.1 L548.6,296.1" fill="none" stroke="#5664ee" stroke-width="2.9" stroke-dasharray="8.5 4.2 1.7 4.2"/>
<path d="M60.5,275.8 C81.4,276.5 102.2,277.3 123.1,277.8 C143.9,278.2 163.3,278.5 185.7,278.3 C211.5,278 245.4,277.1 269.1,276 C286.7,275.2 298.8,274.2 315,273 C333.3,271.5 354.2,270.2 373.4,267.6 C392.2,265.1 411.1,262 429.1,257.5 C446.5,253.1 464.1,247.9 479.6,241.1 C493.9,234.9 507.6,228.9 519,219.3 C530.7,209.3 538.8,194.4 548.6,182" fill="none" stroke="#d0323a" stroke-width="2.9" />
<path d="M60.5,325 C81.4,326.3 100.7,328 123.1,328.9 C148.9,330 176,330.3 206.5,330.7 C243.7,331.2 291.6,332.1 330,331.3 C363.7,330.5 396.7,329.3 424.7,326.6 C447.1,324.5 467,323.9 485,318.3 C501,313.3 518.5,306 528,296.8 C535.2,289.8 537.9,280.6 541.1,272.4 C544,265 545.5,257.9 546.7,250 C548.1,241.6 548,232.4 548.6,223.5" fill="none" stroke="#d0323a" stroke-width="2.9" stroke-dasharray="12.5 6"/>
<path d="M60.5,359.3 C83.1,358.6 109.2,358.1 128.3,357.2 C142.3,356.5 153,356.7 164.6,354.9 C175.7,353.2 186.9,350.4 196.5,346.9 C204.9,343.8 212.9,340.1 219.2,335.5 C224.7,331.6 229.1,327.2 232.8,321.8 C236.8,316 239.3,309.4 242,301.4 C245.6,290.7 248.3,274.4 251.2,262.6 C253.5,252.8 255.1,241.8 257.8,235.6 C259.5,232 261.4,227.7 263.3,227.6 C265.1,227.5 267.3,231 269.1,234.7 C273.1,243.2 275.2,266.8 278.5,281 C281.3,293.2 283.5,305.2 287.5,314.9 C290.7,322.9 294.5,330.6 298.9,335.5 C302.3,339.3 305.7,341.6 310.2,343.5 C315.7,345.9 323.5,346.7 330,347.3 C336.2,347.8 342.2,347.5 348.4,347.1 C354.7,346.6 360.7,346.6 367.4,344.4 C375.6,341.7 385.8,337.3 393.6,330.4 C402.9,322.2 411.6,308.8 417.8,296.8 C424,285 427.1,273.8 431,259.3 C436,240.3 439.7,211.5 443.3,192.1 C446,177.3 447.8,163.3 450.6,153 C452.4,146 454.4,136.1 456.6,135.9 C458.7,135.8 461.7,143.4 463.5,149.4 C466.5,159.5 466.1,179.5 468.3,192.3 C470.1,202.8 473,212.1 475,220.9 C476.7,228.5 478.3,235.5 479.8,242 C481,247.6 481.7,253 483.1,257.5 C484.3,261.2 485.3,264.9 487.1,267.4 C488.5,269.5 490.8,272.3 492.3,272.1 C493.9,271.9 495.4,268.2 496.5,265.8 C497.7,263.3 498.1,261.3 499,257.5 C500.9,249.6 503.9,232.4 505.7,220.9 C507.2,210.8 508,202.6 509,192.3 C510.2,180.3 511.2,165.6 512.1,153.2 C512.9,141.7 513.6,132.6 514.2,120.1 C515,103.5 515.4,82.6 515.9,62.3 C516.4,39.9 516.8,14.9 517.3,-8.8" fill="none" stroke="#6cf24a" stroke-width="2.9" stroke-dasharray="12.5 6"/>
<path d="M60.5,260 L73.6,260 L73.6,273 L89.7,273 L89.7,281 L164.6,287.7 L165.8,293.4 L191.9,299.1 L232.8,312.8 L287.5,327.5 L317.1,336.1 L330,336.9 L348.8,339.6 L366.5,343.3 L366.5,336.1 L386.1,337.8 L397.4,339.6 L427.2,335 L460.8,330.4 L485,324.7 L485,310.6 L501.9,307.1 L501.9,299.4 L510.2,298.6 L510.2,281.8 L519.6,281.8 L519.6,210.4 L527.3,210.4 L527.3,17.9 L534,17.9 L534,15.2 L544.9,15.2 L544.9,-8.8" fill="none" stroke="#6cf24a" stroke-width="2.9" />
</g>
<text x="389.3" y="123.6" font-size="17.5" fill="#5ef03e" font-weight="bold" text-anchor="start" textLength="116.6" lengthAdjust="spacingAndGlyphs" stroke="#5ef03e" stroke-width="0.35" >Solid Particle</text>
<text x="212.5" y="185.9" font-size="17.5" fill="#4a5af0" font-weight="bold" text-anchor="start" textLength="94.7" lengthAdjust="spacingAndGlyphs" stroke="#4a5af0" stroke-width="0.35" >Electrolyte</text>
<text x="150.4" y="251" font-size="17.5" fill="#111" font-weight="bold" text-anchor="start" textLength="68.7" lengthAdjust="spacingAndGlyphs" stroke="#111" stroke-width="0.35" >Contact</text>
<text x="70.4" y="319.7" font-size="17.5" fill="#d42a30" font-weight="bold" text-anchor="start" textLength="163.4" lengthAdjust="spacingAndGlyphs" stroke="#d42a30" stroke-width="0.35" >Interfacial Kinetics</text>
<text x="268.3" y="35.5" font-size="19" fill="#111" font-weight="bold" text-anchor="start" textLength="286" lengthAdjust="spacingAndGlyphs" stroke="#111" stroke-width="0.35" >0.001C rate discharge at 25&#176;C</text>
<text x="544.7" y="343.2" font-size="22.5" fill="#111" font-weight="bold" text-anchor="middle" textLength="28" lengthAdjust="spacingAndGlyphs" stroke="#111" stroke-width="0.35" >(a)</text>
<line x1="85.3" y1="26.2" x2="170.6" y2="26.2" stroke="#333" stroke-width="2.8" stroke-dasharray="13 5.3"/>
<line x1="85.3" y1="47.8" x2="170.6" y2="47.8" stroke="#333" stroke-width="2.8" stroke-dasharray="8.5 4.2 1.7 4.2"/>
<line x1="85.3" y1="70.5" x2="170.6" y2="70.5" stroke="#333" stroke-width="2.8"/>
<text x="184" y="31.2" font-size="17.5" fill="#111" font-weight="bold" text-anchor="start" textLength="56.9" lengthAdjust="spacingAndGlyphs" stroke="#111" stroke-width="0.35" >Anode</text>
<text x="184" y="52.8" font-size="17.5" fill="#111" font-weight="bold" text-anchor="start" textLength="85.8" lengthAdjust="spacingAndGlyphs" stroke="#111" stroke-width="0.35" >Separator</text>
<text x="184" y="75.5" font-size="17.5" fill="#111" font-weight="bold" text-anchor="start" textLength="73.5" lengthAdjust="spacingAndGlyphs" stroke="#111" stroke-width="0.35" >Cathode</text>
<g clip-path="url(#clipb)">
<path d="M690.2,354.7 L1178.7,354.7" fill="none" stroke="#111" stroke-width="2.4" stroke-dasharray="2.6 2.0"/>
<path d="M690.2,253.6 C711,251.7 731.8,249.9 752.7,248.1 C773.9,246.2 794.3,242.9 816.5,242.6 C841,242.2 869.3,245.9 893.5,246.8 C915.1,247.6 932.5,248.1 955,248.1 C982,248.1 1011.7,246.6 1044.6,246.3 C1084.8,246 1134,246.5 1178.7,246.7" fill="none" stroke="#5664ee" stroke-width="2.9" stroke-dasharray="12.5 6"/>
<path d="M690.2,264.4 L1178.7,264.4" fill="none" stroke="#5664ee" stroke-width="2.9" />
<path d="M690.2,302.5 L1178.7,302.5" fill="none" stroke="#5664ee" stroke-width="2.9" stroke-dasharray="8.5 4.2 1.7 4.2"/>
<path d="M690.2,47.7 C718.7,51.5 750,57.2 775.7,58.9 C796.5,60.4 813.1,60.2 832.6,59.5 C853.2,58.7 875,57.9 896,54.1 C917.3,50.4 938.5,44 959.3,36.7 C980.7,29.3 1007.2,17 1022.7,9.7 C1032,5.3 1037.3,2.1 1044.6,-1.7" fill="none" stroke="#d0323a" stroke-width="2.9" />
<path d="M690.2,-1.7 C693.3,2.1 695,5.5 699.6,9.7 C707.7,17.3 724.7,28.4 737.5,36.7 C750,44.8 761.8,53.2 775.7,58.9 C790.3,65 806.5,68.5 823.2,71.6 C841.2,74.8 860.6,77.2 880.1,77.3 C900.7,77.4 922.7,76.1 943.5,71.6 C964.9,66.9 986.6,59.4 1006.9,49.3 C1027.8,39 1053.6,19.1 1066.9,9.7 C1073.8,4.9 1077.1,2.1 1082.1,-1.7" fill="none" stroke="#d0323a" stroke-width="2.9" stroke-dasharray="12.5 6"/>
<path d="M690.2,360.9 C711,359.8 731.8,359 752.7,357.4 C773.9,355.7 799.6,355 816.5,351 C828.4,348.2 837.4,345.1 845.7,340 C853.3,335.3 860,329.2 864.9,322.4 C869.7,315.6 872.1,307.3 874.9,299.1 C878,290.3 880,279.8 882.4,271.2 C884.5,263.8 885.8,254.9 888.3,250.7 C889.6,248.5 891.2,246.2 892.6,246.3 C894.2,246.4 895.7,249.5 897,252.2 C899.2,256.6 900.7,264.1 902.8,271.2 C905.5,280.2 908.6,292.1 911.6,301.9 C914.4,311.1 916.3,320.9 920.4,328.2 C923.9,334.6 927.6,340.5 933.5,344.2 C940.3,348.5 952.8,349.9 960,350.6 C964.8,351.1 967.6,350.6 972.3,350.3 C978.4,349.9 986.1,349.7 993.3,348.1 C1001.5,346.4 1011.1,344.1 1018.8,339.6 C1026.6,335 1034.3,327.9 1039.8,320.8 C1045.1,313.9 1048,306.2 1051.7,297.7 C1056,287.8 1060.1,277 1063.4,264.8 C1067.3,250.2 1069.8,230.3 1072.8,215.5 C1075.2,203.5 1076.9,191.6 1079.8,182.8 C1081.9,176.6 1084.6,167.5 1086.9,167.6 C1089.3,167.6 1091.8,176.5 1093.8,182.8 C1096.8,192.4 1098.6,209 1100.9,220.3 C1102.9,229.8 1104.8,237.5 1106.7,246.1 C1108.7,254.7 1109.8,264.8 1112.8,271.9 C1115.2,277.5 1119.1,286 1122,285.9 C1124.8,285.9 1128.1,277.4 1130.1,271.9 C1132.5,265 1132.6,256.5 1133.8,247.4 C1135.4,235.9 1137,222.2 1138.4,208.6 C1140,193.7 1141.8,178.5 1143,161.7 C1144.4,142.1 1145,120.9 1145.7,97.9 C1146.6,70.7 1147.1,27.3 1147.8,9 C1148.1,0.8 1148.5,-2.9 1148.9,-8.8" fill="none" stroke="#6cf24a" stroke-width="2.9" stroke-dasharray="12.5 6"/>
<path d="M690.2,274.7 L700.4,274.7 L700.4,285.9 L720,285.9 L720,293.6 L794.6,300.2 L864.9,321.5 L930,338 L945.8,338 L945.8,340.7 L993.3,348.1 L993.3,340.1 L1018.8,342.8 L1056.7,338.5 L1090.5,335.5 L1113.6,330.2 L1113.6,318.6 L1130.5,315.4 L1130.5,309 L1140.1,308 L1140.1,293.2 L1149.1,293.2 L1149.1,232.6 L1156.8,232.6 L1156.8,72.5 L1165.3,72.5 L1165.3,65.3 L1174.3,65.3 L1174.3,-8.8" fill="none" stroke="#6cf24a" stroke-width="2.9" />
</g>
<text x="776.1" y="35.6" font-size="17.5" fill="#d42a30" font-weight="bold" text-anchor="start" textLength="164.5" lengthAdjust="spacingAndGlyphs" stroke="#d42a30" stroke-width="0.35" >Interfacial Kinetics</text>
<text x="845" y="109.7" font-size="19" fill="#111" font-weight="bold" text-anchor="start" textLength="294" lengthAdjust="spacingAndGlyphs" stroke="#111" stroke-width="0.35" >0.001C rate discharge at -20&#176;C</text>
<text x="1025.8" y="157.9" font-size="17.5" fill="#5ef03e" font-weight="bold" text-anchor="start" textLength="116" lengthAdjust="spacingAndGlyphs" stroke="#5ef03e" stroke-width="0.35" >Solid Particle</text>
<text x="728.9" y="237.5" font-size="17.5" fill="#4a5af0" font-weight="bold" text-anchor="start" textLength="94.3" lengthAdjust="spacingAndGlyphs" stroke="#4a5af0" stroke-width="0.35" >Electrolyte</text>
<text x="708" y="348.9" font-size="17.5" fill="#111" font-weight="bold" text-anchor="start" textLength="68" lengthAdjust="spacingAndGlyphs" stroke="#111" stroke-width="0.35" >Contact</text>
<text x="1174.7" y="342.9" font-size="22.5" fill="#111" font-weight="bold" text-anchor="middle" textLength="28.6" lengthAdjust="spacingAndGlyphs" stroke="#111" stroke-width="0.35" >(b)</text>
<line x1="718" y1="130.8" x2="804" y2="130.8" stroke="#333" stroke-width="2.8" stroke-dasharray="13 5.3"/>
<line x1="718" y1="154.5" x2="804" y2="154.5" stroke="#333" stroke-width="2.8" stroke-dasharray="8.5 4.2 1.7 4.2"/>
<line x1="718" y1="176.6" x2="804" y2="176.6" stroke="#333" stroke-width="2.8"/>
<text x="819.2" y="137.4" font-size="17.5" fill="#111" font-weight="bold" text-anchor="start" textLength="56.9" lengthAdjust="spacingAndGlyphs" stroke="#111" stroke-width="0.35" >Anode</text>
<text x="819.2" y="159.4" font-size="17.5" fill="#111" font-weight="bold" text-anchor="start" textLength="85.8" lengthAdjust="spacingAndGlyphs" stroke="#111" stroke-width="0.35" >Separator</text>
<text x="819.2" y="182" font-size="17.5" fill="#111" font-weight="bold" text-anchor="start" textLength="73.5" lengthAdjust="spacingAndGlyphs" stroke="#111" stroke-width="0.35" >Cathode</text>
<g clip-path="url(#clipc)">
<path d="M60.5,694.4 L355.3,694.4" fill="none" stroke="#111" stroke-width="2.4" stroke-dasharray="2.6 2.0"/>
<path d="M60.5,738.1 C60.8,733.5 60.4,729.6 61.5,724.1 C63.3,715.7 67.8,702.3 72.6,693.5 C76.8,685.7 82.2,680.3 87.8,673.5 C94.1,666 99.7,658.5 108.7,650.6 C121.1,639.7 141.1,627.5 157.5,616.4 C173.7,605.5 190.1,595.3 206.3,584.7 C222.5,574.2 238.7,563.6 254.9,553.1 C271.2,542.5 287.2,531.6 303.7,521.4 C320.4,511.1 337.7,501.6 354.6,491.7" fill="none" stroke="#5664ee" stroke-width="2.9" stroke-dasharray="12.5 6"/>
<path d="M60.5,732.8 C63.1,721.1 63.6,706.2 68.2,697.7 C71.5,691.7 75.7,688.4 81.4,684.6 C88.7,679.6 98.5,675.6 109.7,672.5 C124.8,668.2 145.6,666.5 164.8,664.5 C185.7,662.3 210.8,662.2 230.5,660.4 C246.6,658.9 259.3,658.1 274.3,655 C290.7,651.7 310.4,645.7 325,640.6 C336.5,636.6 345.2,632.2 355.3,628" fill="none" stroke="#5664ee" stroke-width="2.9" />
<path d="M60.5,729.6 C66,724.1 69.8,716.9 77,713 C85.5,708.5 96.4,708.2 109.7,706.5 C129.9,703.9 160.2,703.8 186.7,702 C215,700.1 249.1,698.5 274.3,695.4 C293.6,693.1 310.3,689.4 325,686.7 C336.4,684.6 345.2,682.7 355.3,680.7" fill="none" stroke="#d0323a" stroke-width="2.9" />
<path d="M60.5,770.2 C63.3,762.1 65.3,751.5 68.8,746 C71.2,742.3 72.9,740.1 77,738.3 C84.4,735.2 97.9,736.9 112.7,736.7 C136.5,736.4 173.9,737.5 206.5,738.1 C241.9,738.8 290.7,740.2 317.3,740.6 C332.3,740.9 340.8,740.9 352.5,741" fill="none" stroke="#5664ee" stroke-width="2.9" stroke-dasharray="8.5 4.2 1.7 4.2"/>
<path d="M60.5,770 C62.3,762 61.9,752.2 65.9,746 C69.8,740 76.3,735.8 83.4,732.8 C91.9,729.3 103.2,728.5 114.1,728.4 C126.5,728.2 139.7,729.5 153.7,732.8 C170.8,736.8 191.4,746 208.6,752.6 C224.1,758.4 237.6,765.9 252.4,770.2 C266.9,774.3 283.3,776.9 296.4,777.8 C306.9,778.5 315.4,778.3 325,776.8 C335,775.2 345.2,771.1 355.3,768.2" fill="none" stroke="#6cf24a" stroke-width="2.9" />
<path d="M60.5,770 C66.7,771.1 70.6,772.9 79.1,773.4 C97.2,774.3 134.1,769.1 164.8,766.8 C200.4,764.1 250.4,760.6 279.9,758.1 C298.4,756.5 311.6,756.3 325,753.8 C336.2,751.7 345.2,748 355.3,745.1" fill="none" stroke="#d0323a" stroke-width="2.9" stroke-dasharray="12.5 6"/>
<path d="M60.5,802.2 C80.6,793.7 101.4,787.1 120.8,776.8 C140.5,766.2 159.5,753 177.7,739.4 C196.1,725.6 214.2,709.3 230.5,694.5 C245.4,681 260.1,670.1 272,654.3 C284.9,637.2 294.4,615.3 303.7,594.5 C313.2,573.4 321,549 328.1,528.7 C334.2,511.3 339.9,495.5 344,480.1 C347.6,466.5 350.3,449.4 351.9,441 C352.7,436.9 353,435 353.6,432.1" fill="none" stroke="#6cf24a" stroke-width="2.9" stroke-dasharray="12.5 6"/>
</g>
<text x="293" y="471.2" font-size="19" fill="#111" font-weight="bold" text-anchor="start" textLength="264" lengthAdjust="spacingAndGlyphs" stroke="#111" stroke-width="0.35" >4.6C rate discharge at 25&#176;C</text>
<text x="403.8" y="495.5" font-size="17.5" fill="#d42a30" font-weight="bold" text-anchor="start" textLength="93.1" lengthAdjust="spacingAndGlyphs" font-style="italic" stroke="#d42a30" stroke-width="0.35" >isothermal</text>
<text x="339.3" y="565.8" font-size="17.5" fill="#5ef03e" font-weight="bold" text-anchor="start" textLength="115.7" lengthAdjust="spacingAndGlyphs" stroke="#5ef03e" stroke-width="0.35" >Solid Particle</text>
<text x="151.5" y="640.7" font-size="17.5" fill="#4a5af0" font-weight="bold" text-anchor="start" textLength="94.3" lengthAdjust="spacingAndGlyphs" stroke="#4a5af0" stroke-width="0.35" >Electrolyte</text>
<text x="147.1" y="688.5" font-size="17.5" fill="#111" font-weight="bold" text-anchor="start" textLength="68" lengthAdjust="spacingAndGlyphs" stroke="#111" stroke-width="0.35" >Contact</text>
<text x="104.4" y="722.3" font-size="17.5" fill="#d42a30" font-weight="bold" text-anchor="start" textLength="164.5" lengthAdjust="spacingAndGlyphs" stroke="#d42a30" stroke-width="0.35" >Interfacial Kinetics</text>
<text x="544.7" y="780" font-size="22.5" fill="#111" font-weight="bold" text-anchor="middle" textLength="28" lengthAdjust="spacingAndGlyphs" stroke="#111" stroke-width="0.35" >(c)</text>
<line x1="87.9" y1="466.3" x2="173.4" y2="466.3" stroke="#333" stroke-width="2.8" stroke-dasharray="13 5.3"/>
<line x1="87.9" y1="486.5" x2="173.4" y2="486.5" stroke="#333" stroke-width="2.8" stroke-dasharray="8.5 4.2 1.7 4.2"/>
<line x1="87.9" y1="509.1" x2="173.4" y2="509.1" stroke="#333" stroke-width="2.8"/>
<text x="187.5" y="471.3" font-size="17.5" fill="#111" font-weight="bold" text-anchor="start" textLength="56.9" lengthAdjust="spacingAndGlyphs" stroke="#111" stroke-width="0.35" >Anode</text>
<text x="187.5" y="491.5" font-size="17.5" fill="#111" font-weight="bold" text-anchor="start" textLength="85.8" lengthAdjust="spacingAndGlyphs" stroke="#111" stroke-width="0.35" >Separator</text>
<text x="187.5" y="514.1" font-size="17.5" fill="#111" font-weight="bold" text-anchor="start" textLength="73.5" lengthAdjust="spacingAndGlyphs" stroke="#111" stroke-width="0.35" >Cathode</text>
<g clip-path="url(#clipd)">
<path d="M690.6,791.8 L1060,791.8" fill="none" stroke="#111" stroke-width="2.4" stroke-dasharray="2.6 2.0"/>
<path d="M690.6,768.3 L692.5,768 L694.3,767.7 L696.2,767.4 L698,767 L699.9,766.7 L701.7,766.4 L703.6,766 L705.4,765.6 L707.3,765.2 L709.1,764.8 L711,764.4 L712.8,764 L714.7,763.6 L716.5,763.1 L718.4,762.7 L720.2,762.2 L722.1,761.7 L723.9,761.2 L725.8,760.6 L727.6,760.1 L729.5,759.5 L731.3,759 L733.2,758.4 L735.1,757.8 L736.9,757.1 L738.8,756.5 L740.6,755.8 L742.5,755.1 L744.3,754.4 L746.2,753.7 L748,753 L749.9,752.3 L751.7,751.6 L753.6,750.9 L755.4,750.1 L757.3,749.4 L759.1,748.6 L761,747.9 L762.8,747.1 L764.7,746.3 L766.5,745.5 L768.4,744.7 L770.2,743.9 L772.1,743.1 L773.9,742.3 L775.8,741.4 L777.6,740.6 L779.5,739.7 L781.4,738.8 L783.2,738 L785.1,737.1 L786.9,736.1 L788.8,735.2 L790.6,734.3 L792.5,733.3 L794.3,732.4 L796.2,731.4 L798,730.5 L799.9,729.5 L801.7,728.5 L803.6,727.6 L805.4,726.6 L807.3,725.6 L809.1,724.6 L811,723.7 L812.8,722.7 L814.7,721.7 L816.5,720.7 L818.4,719.7 L820.2,718.7 L822.1,717.7 L824,716.7 L825.8,715.7 L827.7,714.7 L829.5,713.7 L831.4,712.7 L833.2,711.7 L835.1,710.7 L836.9,709.7 L838.8,708.6 L840.6,707.6 L842.5,706.6 L844.3,705.6 L846.2,704.5 L848,703.5 L849.9,702.5 L851.7,701.4 L853.6,700.4 L855.4,699.3 L857.3,698.3 L859.1,697.2 L861,696.2 L862.8,695.1 L864.7,694.1 L866.5,693 L868.4,691.9 L870.3,690.9 L872.1,689.8 L874,688.7 L875.8,687.6 L877.7,686.5 L879.5,685.4 L881.4,684.4 L883.2,683.3 L885.1,682.2 L886.9,681.1 L888.8,680 L890.6,678.8 L892.5,677.7 L894.3,676.6 L896.2,675.5 L898,674.4 L899.9,673.3 L901.7,672.1 L903.6,671 L905.4,669.8 L907.3,668.6 L909.1,667.3 L911,666.1 L912.9,664.8 L914.7,663.5 L916.6,662.2 L918.4,660.9 L920.3,659.5 L922.1,658.2 L924,656.8 L925.8,655.4 L927.7,653.9 L929.5,652.5 L931.4,651.1 L933.2,649.6 L935.1,648.1 L936.9,646.6 L938.8,645.1 L940.6,643.6 L942.5,642.1 L944.3,640.5 L946.2,638.9 L948,637.3 L949.9,635.6 L951.7,633.9 L953.6,632.2 L955.5,630.4 L957.3,628.7 L959.2,626.9 L961,625.1 L962.9,623.2 L964.7,621.4 L966.6,619.5 L968.4,617.6 L970.3,615.6 L972.1,613.7 L974,611.7 L975.8,609.6 L977.7,607.6 L979.5,605.5 L981.4,603.4 L983.2,601.2 L985.1,599.1 L986.9,596.9 L988.8,594.6 L990.6,592.3 L992.5,590 L994.3,587.6 L996.2,585.2 L998,582.7 L999.9,580.2 L1001.8,577.7 L1003.6,575.1 L1005.5,572.5 L1007.3,569.7 L1009.2,567 L1011,564.2 L1012.9,561.3 L1014.7,558.4 L1016.6,555.5 L1018.4,552.5 L1020.3,549.3 L1022.1,546.1 L1024,542.8 L1025.8,539.5 L1027.7,536 L1029.5,532.5 L1031.4,528.8 L1033.2,524.9 L1035.1,521 L1036.9,517 L1038.8,512.8 L1040.6,508.3 L1042.5,503.6 L1044.4,498.7 L1046.2,493.6 L1048.1,487.9 L1049.9,481.8 L1051.8,475.2 L1053.6,467.5 L1055.5,458.8 L1057.3,448.3 L1059.2,435.1" fill="none" stroke="#5664ee" stroke-width="2.9" stroke-dasharray="12.5 6"/>
<path d="M690.6,708.6 C732.6,706 774.3,704.4 816.7,701 C860.1,697.6 911,691.6 948,687.9 C975.3,685.2 998.5,682.4 1019,680.9 C1034.5,679.8 1046.3,679.7 1060,679.1" fill="none" stroke="#d0323a" stroke-width="2.9" />
<path d="M690.6,693.1 C732.6,696.5 774.2,699.7 816.7,703.2 C860,706.7 906,710.1 948,714.1 C986.9,717.8 1022.7,722 1060,726" fill="none" stroke="#d0323a" stroke-width="2.9" stroke-dasharray="12.5 6"/>
<path d="M690.6,776 C707.5,775.4 724.4,775.2 741.3,774.2 C758.3,773.2 775.5,771.2 792.5,769.9 C809.5,768.7 826.1,768.2 843.5,766.7 C861.9,765.1 883.4,763.5 900,760.6 C913.2,758.3 921.8,755.7 935.2,752 C953.1,746.9 980.5,737.7 997.7,731.9 C1009.9,727.8 1018.6,725.1 1029,720.9 C1039.4,716.8 1049.6,711.6 1060,706.9" fill="none" stroke="#5664ee" stroke-width="2.9" />
<path d="M690.6,799.9 C696.1,795.3 700.3,790.3 707.2,786.3 C716.2,780.9 728.5,775.8 741.3,772.6 C756.4,768.8 775.5,768.2 792.5,766.7 C809.5,765.1 826.1,764.5 843.5,763.3 C861.8,762 878.8,760.1 900,759 C926.9,757.5 963.8,756.5 992.2,755.9 C1016.5,755.4 1037.4,755.4 1060,755.2" fill="none" stroke="#6cf24a" stroke-width="2.9" />
<path d="M690.6,792.5 C696.1,790.7 700.6,788.8 707.2,787.1 C716.4,784.8 728.7,782.8 741.3,781 C756.6,778.9 775.5,777.3 792.5,776 C809.5,774.7 826.1,774.3 843.5,773.3 C861.8,772.3 876.3,770.9 900,769.9 C939.7,768.3 1006.6,767.5 1060,766.3" fill="none" stroke="#5664ee" stroke-width="2.9" stroke-dasharray="8.5 4.2 1.7 4.2"/>
<path d="M690.6,802.8 C730,802.6 768.8,802.8 808.8,802.2 C850.2,801.6 900.4,800.9 935.2,799.2 C959.7,798 980.5,796.4 997.7,794.5 C1009.9,793.1 1020.4,792.1 1029,789.8 C1035.2,788.2 1039.7,786.3 1044.7,783.6 C1050,780.7 1054.9,776.3 1060,772.6" fill="none" stroke="#6cf24a" stroke-width="2.9" stroke-dasharray="12.5 6"/>
</g>
<text x="928.5" y="472.2" font-size="19" fill="#111" font-weight="bold" text-anchor="start" textLength="254.4" lengthAdjust="spacingAndGlyphs" stroke="#111" stroke-width="0.35" >1C rate discharge at -20&#176;C</text>
<text x="1071" y="501.3" font-size="17.5" fill="#d42a30" font-weight="bold" text-anchor="start" textLength="92.2" lengthAdjust="spacingAndGlyphs" font-style="italic" stroke="#d42a30" stroke-width="0.35" >isothermal</text>
<text x="896.4" y="586" font-size="17.5" fill="#4a5af0" font-weight="bold" text-anchor="start" textLength="94.4" lengthAdjust="spacingAndGlyphs" stroke="#4a5af0" stroke-width="0.35" >Electrolyte</text>
<text x="700.4" y="687.8" font-size="17.5" fill="#d42a30" font-weight="bold" text-anchor="start" textLength="164.5" lengthAdjust="spacingAndGlyphs" stroke="#d42a30" stroke-width="0.35" >Interfacial Kinetics</text>
<text x="1017" y="750.5" font-size="17.5" fill="#5ef03e" font-weight="bold" text-anchor="start" textLength="117.6" lengthAdjust="spacingAndGlyphs" stroke="#5ef03e" stroke-width="0.35" >Solid Particle</text>
<text x="1071" y="796.1" font-size="17.5" fill="#111" font-weight="bold" text-anchor="start" textLength="68" lengthAdjust="spacingAndGlyphs" stroke="#111" stroke-width="0.35" >Contact</text>
<text x="1179.2" y="781" font-size="22.5" fill="#111" font-weight="bold" text-anchor="middle" textLength="29.3" lengthAdjust="spacingAndGlyphs" stroke="#111" stroke-width="0.35" >(d)</text>
<line x1="719" y1="461.5" x2="798" y2="461.5" stroke="#333" stroke-width="2.8" stroke-dasharray="8.5 9.5"/>
<line x1="719" y1="480.5" x2="798" y2="480.5" stroke="#333" stroke-width="2.8" stroke-dasharray="8.5 4.2 1.7 4.2"/>
<line x1="719" y1="499.5" x2="798" y2="499.5" stroke="#333" stroke-width="2.8"/>
<text x="816" y="466.5" font-size="17.5" fill="#111" font-weight="bold" text-anchor="start" textLength="56.9" lengthAdjust="spacingAndGlyphs" stroke="#111" stroke-width="0.35" >Anode</text>
<text x="813" y="485.5" font-size="17.5" fill="#111" font-weight="bold" text-anchor="start" textLength="85.8" lengthAdjust="spacingAndGlyphs" stroke="#111" stroke-width="0.35" >Separator</text>
<text x="813" y="504.5" font-size="17.5" fill="#111" font-weight="bold" text-anchor="start" textLength="73.5" lengthAdjust="spacingAndGlyphs" stroke="#111" stroke-width="0.35" >Cathode</text>
<g clip-path="url(#clipe)">
<path d="M60.5,1131.6 L504.6,1131.6" fill="none" stroke="#111" stroke-width="2.4" stroke-dasharray="2.6 2.0"/>
<path d="M60.5,1164.6 C63.1,1155.8 62.9,1144.2 68.2,1138.2 C73.2,1132.5 79.9,1131.1 90.1,1128.6 C110.6,1123.4 151.4,1124.1 186.7,1120.7 C229.8,1116.7 294.4,1110.2 330,1105.5 C351.3,1102.6 363.9,1099.5 380.9,1097.3 C397.8,1095.1 418.3,1092.3 431.6,1092.1 C440.1,1092 445.2,1093.3 452.7,1093.5 C461.3,1093.8 471.8,1091.1 480.4,1093.5 C489.1,1096 496.5,1103.5 504.6,1108.5" fill="none" stroke="#5664ee" stroke-width="2.9" stroke-dasharray="12.5 6"/>
<path d="M60.5,1168.2 C63.1,1159.7 62.6,1149.1 68.2,1142.6 C74.6,1135.3 85.6,1131 98.9,1128.6 C120.3,1124.6 154.6,1130.8 186.7,1133.9 C226.2,1137.7 278.8,1149 318.1,1151.3 C349.9,1153.2 374.9,1152.2 404.7,1150.1 C436.9,1147.8 471.3,1141.5 504.6,1137.3" fill="none" stroke="#5664ee" stroke-width="2.9" />
<path d="M60.5,1168.9 C64.6,1167.8 67.4,1165.2 72.8,1165.5 C83.8,1166.1 104.2,1179.2 122,1185.1 C142.5,1191.8 166.5,1198.4 189,1202.9 C211.2,1207.3 233,1209.9 256,1211.7 C280,1213.7 304.5,1213.5 330,1214.1 C357.4,1214.7 386.4,1214.9 415.1,1215.3 C444.6,1215.7 474.8,1216 504.6,1216.4" fill="none" stroke="#d0323a" stroke-width="2.9" />
<path d="M60.5,1205.5 C63.1,1198.7 62,1189.2 68.4,1185.1 C80.5,1177.3 118,1187.9 144.4,1189.5 C172.9,1191.2 203.3,1193.6 233.6,1195 C265.1,1196.6 293.1,1197.3 330,1198.4 C379.6,1199.9 446.4,1201.5 504.6,1203" fill="none" stroke="#5664ee" stroke-width="2.9" stroke-dasharray="8.5 4.2 1.7 4.2"/>
<path d="M60.5,1212.8 C63.3,1203.3 64,1189.8 68.8,1184.2 C72.2,1180.4 76.1,1179.1 81.8,1178.3 C91.4,1177.1 108.4,1181.6 122,1185.1 C136.7,1188.8 151.7,1195.7 166.7,1200.6 C181.5,1205.4 196.4,1209.9 211.3,1214.1 C226.1,1218.2 239.6,1222.5 256,1225.3 C275.3,1228.6 300.6,1231.1 320,1231.3 C336,1231.4 349.4,1229.4 364,1227.9 C378.6,1226.5 393.3,1224.9 407.8,1222.6 C422.4,1220.3 439.2,1216.9 451.2,1213.9 C459.9,1211.7 465.5,1209.9 473.5,1207.3 C483,1204.2 494.1,1200 504.4,1196.3" fill="none" stroke="#6cf24a" stroke-width="2.9" />
<path d="M60.5,1208.4 C73.3,1212 81.2,1216.3 98.9,1219.4 C135.9,1225.8 211.8,1228 274.3,1230.4 C345.8,1233.2 427.8,1232.7 504.6,1233.8" fill="none" stroke="#d0323a" stroke-width="2.9" stroke-dasharray="12.5 6"/>
<path d="M60.5,1239.3 C73.6,1233.8 86,1227.5 99.7,1222.9 C113.9,1218.2 129.5,1215.5 144.4,1211.7 C159.2,1208 174,1203.5 189,1200.6 C203.8,1197.6 221.3,1195.5 233.6,1194 C242.3,1192.9 248.5,1191.2 256,1191.7 C263.5,1192.1 269.8,1196.4 278.5,1196.6 C290.2,1196.9 306.3,1194.2 320,1189.7 C334.8,1184.9 349.3,1174.7 364,1167.7 C378.6,1160.8 395.7,1153.4 407.8,1147.9 C416.4,1144.1 424,1139.3 429.7,1138.2 C433.2,1137.5 435.2,1139.2 438.5,1138.3 C443.5,1136.9 450.5,1132.1 456,1127.3 C462.3,1121.8 469,1113.3 473.5,1106.3 C477.4,1100.4 480,1094.9 482.3,1088.7 C484.6,1082.4 485.8,1076.8 487.1,1068.7 C489,1056.4 489.5,1037.1 490.4,1022.1 C491.2,1008.1 491.5,995.8 492.3,981.6 C493.2,965.6 494.5,947.3 495.4,930.7 C496.3,914.9 497,896.1 497.5,884.2 C497.8,876.7 497.9,872.1 498.1,866" fill="none" stroke="#6cf24a" stroke-width="2.9" stroke-dasharray="12.5 6"/>
</g>
<text x="291.9" y="910" font-size="19" fill="#111" font-weight="bold" text-anchor="start" textLength="264.5" lengthAdjust="spacingAndGlyphs" stroke="#111" stroke-width="0.35" >4.6C rate discharge at 25&#176;C</text>
<text x="376.5" y="934" font-size="17.5" fill="#d42a30" font-weight="bold" text-anchor="start" textLength="130.3" lengthAdjust="spacingAndGlyphs" font-style="italic" stroke="#d42a30" stroke-width="0.35" >Nonisothermal</text>
<text x="376.5" y="1010.9" font-size="17.5" fill="#5ef03e" font-weight="bold" text-anchor="start" textLength="115" lengthAdjust="spacingAndGlyphs" stroke="#5ef03e" stroke-width="0.35" >Solid Particle</text>
<text x="142.7" y="1111.8" font-size="17.5" fill="#4a5af0" font-weight="bold" text-anchor="start" textLength="93" lengthAdjust="spacingAndGlyphs" stroke="#4a5af0" stroke-width="0.35" >Electrolyte</text>
<text x="370.8" y="1126.3" font-size="17.5" fill="#111" font-weight="bold" text-anchor="start" textLength="68" lengthAdjust="spacingAndGlyphs" stroke="#111" stroke-width="0.35" >Contact</text>
<text x="105.4" y="1170.1" font-size="17.5" fill="#d42a30" font-weight="bold" text-anchor="start" textLength="163.2" lengthAdjust="spacingAndGlyphs" stroke="#d42a30" stroke-width="0.35" >Interfacial Kinetics</text>
<text x="544.7" y="1218.2" font-size="22.5" fill="#111" font-weight="bold" text-anchor="middle" textLength="28.5" lengthAdjust="spacingAndGlyphs" stroke="#111" stroke-width="0.35" >(e)</text>
<line x1="87.9" y1="904.4" x2="173.4" y2="904.4" stroke="#333" stroke-width="2.8" stroke-dasharray="13 5.3"/>
<line x1="87.9" y1="924.6" x2="173.4" y2="924.6" stroke="#333" stroke-width="2.8" stroke-dasharray="8.5 4.2 1.7 4.2"/>
<line x1="87.9" y1="946.1" x2="173.4" y2="946.1" stroke="#333" stroke-width="2.8"/>
<text x="186.6" y="909.4" font-size="17.5" fill="#111" font-weight="bold" text-anchor="start" textLength="56.9" lengthAdjust="spacingAndGlyphs" stroke="#111" stroke-width="0.35" >Anode</text>
<text x="186.6" y="929.6" font-size="17.5" fill="#111" font-weight="bold" text-anchor="start" textLength="85.8" lengthAdjust="spacingAndGlyphs" stroke="#111" stroke-width="0.35" >Separator</text>
<text x="186.6" y="951.1" font-size="17.5" fill="#111" font-weight="bold" text-anchor="start" textLength="73.5" lengthAdjust="spacingAndGlyphs" stroke="#111" stroke-width="0.35" >Cathode</text>
<g clip-path="url(#clipf)">
<path d="M690.2,1228.3 L1007.3,1228.3" fill="none" stroke="#111" stroke-width="2.4" stroke-dasharray="2.6 2.0"/>
<path d="M690.2,1238.4 C704.7,1236.3 719,1235.3 733.8,1232 C749.7,1228.5 765.6,1222.3 782.6,1217.4 C800.9,1212.2 822.1,1208 839.9,1202 C856,1196.5 871.8,1189.3 884.9,1183.3 C895.3,1178.5 903.7,1176.1 912.4,1169.4 C922.9,1161.5 933.3,1148.6 941.8,1136.9 C950.3,1125.4 956.3,1114.6 963.5,1099.9 C973.1,1080.3 984.1,1048.7 992.1,1028.5 C998,1013.7 1002.2,1002.8 1007.3,989.9" fill="none" stroke="#6cf24a" stroke-width="2.9" stroke-dasharray="12.5 6"/>
<path d="M690.2,1204.5 C693.9,1192.6 697.5,1178.5 701.2,1168.7 C703.9,1161.7 705.8,1153.6 709.4,1151 C711.7,1149.3 713.9,1149.8 717.5,1150.1 C724.8,1150.6 739.1,1156.9 750,1158.2 C760.8,1159.6 770.6,1158.7 782.6,1158.2 C797.1,1157.6 814.6,1156.5 831.1,1154.2 C848.7,1151.7 864.9,1146.8 884.9,1143.7 C910,1139.8 947.6,1133.7 970.2,1133.7 C985.1,1133.7 994.9,1136.7 1007.3,1138.2" fill="none" stroke="#5664ee" stroke-width="2.9" stroke-dasharray="12.5 6"/>
<path d="M690.2,1147.6 C699.3,1148.4 708.1,1148.2 717.5,1150.1 C728,1152.2 738,1158.1 750,1160.6 C764.5,1163.5 780.1,1163.5 798.6,1164.6 C823.3,1166.1 853.6,1166.9 884.9,1167.8 C922.2,1169 966.5,1170 1007.3,1171" fill="none" stroke="#d0323a" stroke-width="2.9" />
<path d="M690.2,1131.6 C693.9,1138.6 696.9,1145.6 701.2,1152.6 C705.9,1160.1 711.4,1169.9 717.5,1175.1 C722.5,1179.4 727.2,1181.7 733.8,1183.5 C742.6,1185.8 753.6,1185 766.3,1185.1 C784.2,1185.2 810.5,1183.6 831.1,1182.6 C849.9,1181.6 863.4,1180.6 884.9,1179.2 C917.4,1177.1 966.5,1173.8 1007.3,1171" fill="none" stroke="#d0323a" stroke-width="2.9" stroke-dasharray="12.5 6"/>
<path d="M690.2,1212.8 C693.9,1209.8 696.9,1205.9 701.2,1203.8 C705.9,1201.4 710.2,1200.4 717.5,1199.7 C731.9,1198.3 758.4,1202 782.6,1203 C812.8,1204.4 849.3,1206.1 884.9,1206.9 C923.9,1207.9 966.5,1207.9 1007.3,1208.4" fill="none" stroke="#5664ee" stroke-width="2.9" />
<path d="M690.2,1211 C693.9,1208.3 697,1204.9 701.2,1202.9 C706,1200.6 710.6,1199.3 717.5,1198.8 C729.4,1197.8 750.1,1201 766.3,1202.9 C782.6,1204.8 797.4,1207.3 815.1,1210.1 C836.3,1213.6 858.3,1219.5 884.9,1222.4 C919.9,1226.3 966.5,1226.2 1007.3,1228.1" fill="none" stroke="#6cf24a" stroke-width="2.9" />
<path d="M690.2,1220.6 C695,1218 697.5,1214.2 704.6,1212.6 C719.9,1209.3 754,1217.4 782.6,1218.9 C817.4,1220.6 860.6,1220.7 898.7,1221.5 C935.5,1222.3 971.1,1223.1 1007.3,1223.8" fill="none" stroke="#5664ee" stroke-width="2.9" stroke-dasharray="8.5 4.2 1.7 4.2"/>
</g>
<text x="924" y="911.3" font-size="19" fill="#111" font-weight="bold" text-anchor="start" textLength="254.5" lengthAdjust="spacingAndGlyphs" stroke="#111" stroke-width="0.35" >1C rate discharge at -20&#176;C</text>
<text x="1004.4" y="936.3" font-size="17.5" fill="#d42a30" font-weight="bold" text-anchor="start" textLength="128.9" lengthAdjust="spacingAndGlyphs" font-style="italic" stroke="#d42a30" stroke-width="0.35" >Nonisothermal</text>
<text x="874.5" y="1030.6" font-size="17.5" fill="#5ef03e" font-weight="bold" text-anchor="start" textLength="116.3" lengthAdjust="spacingAndGlyphs" stroke="#5ef03e" stroke-width="0.35" >Solid Particle</text>
<text x="800" y="1140.3" font-size="17.5" fill="#4a5af0" font-weight="bold" text-anchor="start" textLength="93.4" lengthAdjust="spacingAndGlyphs" stroke="#4a5af0" stroke-width="0.35" >Electrolyte</text>
<text x="1014.9" y="1176.3" font-size="17.5" fill="#d42a30" font-weight="bold" text-anchor="start" textLength="164.5" lengthAdjust="spacingAndGlyphs" stroke="#d42a30" stroke-width="0.35" >Interfacial Kinetics</text>
<text x="1014.9" y="1232.4" font-size="17.5" fill="#111" font-weight="bold" text-anchor="start" textLength="69.3" lengthAdjust="spacingAndGlyphs" stroke="#111" stroke-width="0.35" >Contact</text>
<text x="1171.7" y="1218.2" font-size="22.5" fill="#111" font-weight="bold" text-anchor="middle" textLength="22" lengthAdjust="spacingAndGlyphs" stroke="#111" stroke-width="0.35" >(f)</text>
<line x1="713.5" y1="900.5" x2="777" y2="900.5" stroke="#333" stroke-width="2.8" stroke-dasharray="8.5 9.5"/>
<line x1="713.5" y1="919" x2="784" y2="919" stroke="#333" stroke-width="2.8" stroke-dasharray="8.5 4.2 1.7 4.2"/>
<line x1="713.5" y1="938" x2="788" y2="938" stroke="#333" stroke-width="2.8"/>
<text x="813" y="905.5" font-size="17.5" fill="#111" font-weight="bold" text-anchor="start" textLength="56.9" lengthAdjust="spacingAndGlyphs" stroke="#111" stroke-width="0.35" >Anode</text>
<text x="812" y="924" font-size="17.5" fill="#111" font-weight="bold" text-anchor="start" textLength="85.8" lengthAdjust="spacingAndGlyphs" stroke="#111" stroke-width="0.35" >Separator</text>
<text x="812" y="943" font-size="17.5" fill="#111" font-weight="bold" text-anchor="start" textLength="73.5" lengthAdjust="spacingAndGlyphs" stroke="#111" stroke-width="0.35" >Cathode</text></svg></body></html>
